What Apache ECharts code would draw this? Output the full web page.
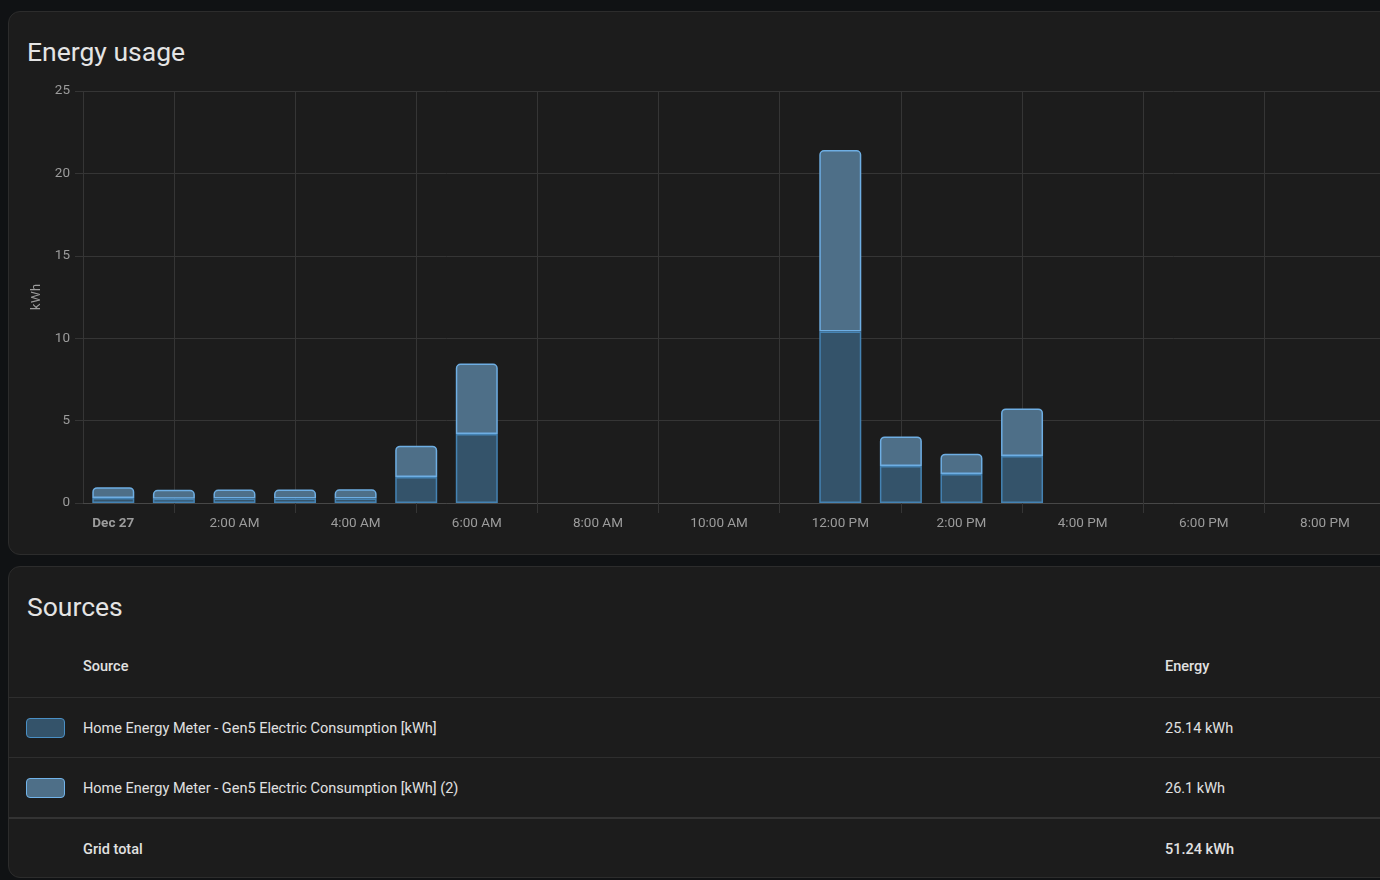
<!DOCTYPE html>
<html>
<head>
<meta charset="utf-8">
<script src="https://cdn.jsdelivr.net/npm/echarts@6/dist/echarts.min.js"></script>
<style>
  html, body { margin: 0; padding: 0; width: 1380px; height: 880px; overflow: hidden; background: #101214; font-family: Roboto, "Noto Sans", sans-serif; }
  .card { position: absolute; left: 8px; width: 1600px; background: #1c1c1c; border: 1px solid #2c2c2c; border-radius: 12px; box-sizing: border-box; }
  .title { position: absolute; left: 18px; font-size: 26.5px; color: #e4e4e4; font-weight: 400; }
  #chart { position: absolute; left: 0; top: 0; width: 1600px; height: 555px; }
  .row { position: absolute; left: 0; width: 100%; color: #e1e1e1; font-size: 14.5px; }
  .row span { position: absolute; top: 50%; transform: translateY(-50%); white-space: nowrap; }
  .c1 { left: 74px; }
  .c2 { left: 1156px; }
  .bold { font-weight: 500; }
  .sep { position: absolute; left: 0; width: 100%; height: 1px; background: #2e2e2e; }
  .swatch { position: absolute; left: 17px; width: 39px; height: 20px; border-radius: 4px; box-sizing: border-box; border: 1.5px solid; top: 50%; transform: translateY(-50%); }
</style>
</head>
<body>
<div class="card" style="top:11px;height:544px;">
  <div class="title" style="top:24px;">Energy usage</div>
</div>
<div id="chart"></div>
<div class="card" style="top:566px;height:312px;">
  <div class="title" style="top:24px;">Sources</div>
  <div class="row bold" style="top:84px;height:30px;"><span class="c1">Source</span><span class="c2">Energy</span></div>
  <div class="sep" style="top:130px;"></div>
  <div class="row" style="top:131px;height:59px;"><div class="swatch" style="background:#34536a;border-color:#4a8fc4;"></div><span class="c1" id="name0"></span><span class="c2" id="total0"></span></div>
  <div class="sep" style="top:190px;"></div>
  <div class="row" style="top:191px;height:59px;"><div class="swatch" style="background:#4e6f88;border-color:#72b4ea;"></div><span class="c1" id="name1"></span><span class="c2" id="total1"></span></div>
  <div class="sep" style="top:250px;height:2px;background:#333;"></div>
  <div class="row bold" style="top:252px;height:59px;"><span class="c1">Grid total</span><span class="c2" id="gridTotal"></span></div>
</div>
<script>
// hourly labels for Dec 27
const hourLabels = ['Dec 27', '1:00 AM', '2:00 AM', '3:00 AM', '4:00 AM', '5:00 AM', '6:00 AM', '7:00 AM',
  '8:00 AM', '9:00 AM', '10:00 AM', '11:00 AM', '12:00 PM', '1:00 PM', '2:00 PM', '3:00 PM',
  '4:00 PM', '5:00 PM', '6:00 PM', '7:00 PM', '8:00 PM', '9:00 PM', '10:00 PM', '11:00 PM'];

const sourceNames = ['Home Energy Meter - Gen5 Electric Consumption [kWh]', 'Home Energy Meter - Gen5 Electric Consumption [kWh] (2)'];
const sourceTotals = ['25.14 kWh', '26.1 kWh'];
const gridTotal = '51.24 kWh';

// kWh per hour, null = no data
const meter1 = [0.3, 0.26, 0.27, 0.27, 0.27, 1.58, 4.18, null, null, null, null, null, 10.4, 2.24, 1.76, 2.85];
const meter2 = [0.66, 0.54, 0.55, 0.55, 0.56, 1.9, 4.28, null, null, null, null, null, 11.02, 1.8, 1.23, 2.89];

const yTicks = [0, 5, 10, 15, 20, 25];

document.getElementById('name0').textContent = sourceNames[0];
document.getElementById('name1').textContent = sourceNames[1];
document.getElementById('total0').textContent = sourceTotals[0];
document.getElementById('total1').textContent = sourceTotals[1];
document.getElementById('gridTotal').textContent = gridTotal;

// half-hour slots so grid lines can sit on odd hours: slot 2h+1 is hour h
const slots = [];
const s1 = [];
const s2 = [];
for (let k = 0; k <= hourLabels.length * 2; k++) {
  const h = (k - 1) / 2;
  const isHour = k % 2 === 1;
  slots.push(isHour ? hourLabels[h] : '');
  s1.push(isHour && meter1[h] != null ? meter1[h] : null);
  s2.push(isHour && meter2[h] != null ? meter2[h] : null);
}

const chart = echarts.init(document.getElementById('chart'));
const gridColor = '#353535';
const labelColor = '#9c9c9c';
chart.setOption({
  animation: false,
  grid: { left: 83, top: 91, width: 1454, bottom: 52 },
  xAxis: {
    type: 'category',
    boundaryGap: false,
    data: slots,
    axisLine: { show: true, lineStyle: { color: '#474747', width: 1 } },
    axisTick: { show: true, length: 10, interval: (i) => i % 4 === 3, lineStyle: { color: gridColor } },
    splitLine: { show: true, interval: (i) => i === 0 || i % 4 === 3, lineStyle: { color: gridColor } },
    axisLabel: {
      interval: (i) => i % 4 === 1,
      color: labelColor,
      fontSize: 13.5,
      fontFamily: 'Roboto',
      margin: 14,
      formatter: (v) => v === hourLabels[0] ? '{b|' + v + '}' : v,
      rich: { b: { fontWeight: 'bold', color: labelColor, fontSize: 13.5, fontFamily: 'Roboto' } }
    }
  },
  yAxis: {
    type: 'value',
    min: yTicks[0],
    max: yTicks[yTicks.length - 1],
    interval: 5,
    name: 'kWh',
    nameLocation: 'middle',
    nameRotate: 90,
    nameGap: 38,
    nameTextStyle: { color: labelColor, fontSize: 13.5, fontFamily: 'Roboto' },
    axisLine: { show: false },
    axisTick: { show: true, length: 8, lineStyle: { color: gridColor } },
    splitLine: { lineStyle: { color: gridColor } },
    axisLabel: { color: labelColor, fontSize: 13.5, fontFamily: 'Roboto', margin: 13 }
  },
  series: [
    {
      name: sourceNames[0], type: 'bar', stack: 'grid', barWidth: 42, data: s1, z: 3,
      itemStyle: { color: '#34536a', borderColor: '#4583b3', borderWidth: 1.5 }
    },
    {
      name: sourceNames[1], type: 'bar', stack: 'grid', barWidth: 42, data: s2, z: 2,
      itemStyle: { color: '#4e6f88', borderColor: '#6eaee3', borderWidth: 1.5, borderRadius: [4, 4, 0, 0] }
    }
  ]
});
</script>
</body>
</html>
